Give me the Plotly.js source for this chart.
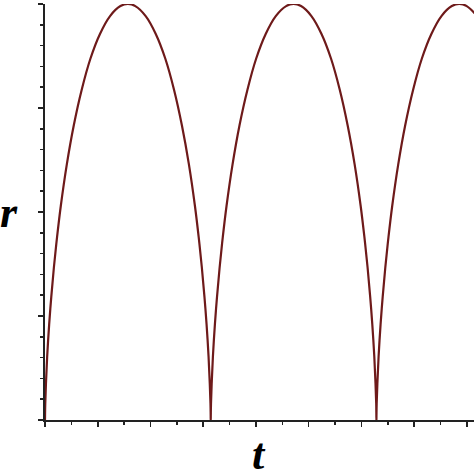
<!DOCTYPE html>
<html>
<head>
<meta charset="utf-8">
<script src="https://cdn.plot.ly/plotly-3.0.1.min.js"></script>
<style>
  html, body { margin: 0; padding: 0; background: #fff; }
  #chart { width: 474px; height: 474px; }
</style>
</head>
<body>
<div id="chart"></div>
<script>
// r values along one arch, shared by every arch
const rArch = [0, 0.010, 0.039, 0.087, 0.152, 0.230, 0.296, 0.366, 0.440, 0.515, 0.614, 0.708,
  0.794, 0.869, 0.928, 0.971, 0.995, 1.000, 0.995, 0.971, 0.928, 0.869, 0.794, 0.708, 0.614,
  0.515, 0.440, 0.366, 0.296, 0.230, 0.152, 0.087, 0.039, 0.010, 0];

// t positions of each arch
const tArch1 = [0, 0.001, 0.005, 0.018, 0.041, 0.079, 0.119, 0.168, 0.229, 0.300, 0.413, 0.545,
  0.696, 0.862, 1.042, 1.233, 1.430, 1.571, 1.712, 1.909, 2.100, 2.280, 2.446, 2.596, 2.729,
  2.842, 2.913, 2.974, 3.023, 3.063, 3.101, 3.124, 3.137, 3.141, 3.142];
const tArch2 = [3.142, 3.143, 3.147, 3.160, 3.183, 3.221, 3.261, 3.310, 3.371, 3.442, 3.555, 3.687,
  3.838, 4.004, 4.184, 4.375, 4.572, 4.712, 4.854, 5.051, 5.242, 5.422, 5.588, 5.738, 5.871,
  5.984, 6.055, 6.116, 6.165, 6.205, 6.243, 6.266, 6.279, 6.282, 6.283];
const tArch3 = [6.283, 6.284, 6.288, 6.301, 6.324, 6.362, 6.402, 6.451, 6.512, 6.583, 6.696, 6.828,
  6.979, 7.145, 7.325, 7.516, 7.713, 7.854, 7.995, 8.192];

const t = tArch1.concat(tArch2.slice(1), tArch3.slice(1));
const r = rArch.concat(rArch.slice(1), rArch.slice(1, tArch3.length));

const trace = {
    x: t,
    y: r,
    mode: 'lines',
    type: 'scatter',
    cliponaxis: false,
    line: { color: '#6e1a1a', width: 2.2, shape: 'spline', smoothing: 1 },
    hoverinfo: 'skip'
};

const axisCommon = {
    showgrid: false,
    zeroline: false,
    showline: true,
    linecolor: '#222',
    linewidth: 2,
    ticks: 'outside',
    tickcolor: '#222',
    tickwidth: 1.5,
    ticklen: 5,
    showticklabels: false,
    fixedrange: true
};

const layout = {
    width: 474,
    height: 474,
    margin: { l: 45, r: 0, t: 4, b: 54 },
    paper_bgcolor: '#fff',
    plot_bgcolor: '#fff',
    showlegend: false,
    xaxis: Object.assign({}, axisCommon, {
        range: [0, 8.133],
        tick0: 0,
        dtick: 1,
        minor: { dtick: 0.5, ticks: 'outside', ticklen: 3, tickcolor: '#222', tickwidth: 1.5 }
    }),
    yaxis: Object.assign({}, axisCommon, {
        range: [0, 1],
        tick0: 0,
        dtick: 0.25,
        minor: { dtick: 0.05, ticks: 'outside', ticklen: 3, tickcolor: '#222', tickwidth: 1.5 }
    }),
    annotations: [
        {
            text: '<b><i>r</i></b>',
            xref: 'paper', yref: 'paper',
            x: -0.085, y: 0.5,
            xanchor: 'center', yanchor: 'middle',
            showarrow: false,
            font: { family: 'Liberation Serif, Times New Roman, serif', size: 44, color: '#000' }
        },
        {
            text: '<b><i>t</i></b>',
            xref: 'paper', yref: 'paper',
            x: 0.498, y: -0.02,
            xanchor: 'center', yanchor: 'top',
            showarrow: false,
            font: { family: 'Liberation Serif, Times New Roman, serif', size: 44, color: '#000' }
        }
    ]
};

Plotly.newPlot('chart', [trace], layout, { displayModeBar: false, staticPlot: true });
</script>
</body>
</html>
